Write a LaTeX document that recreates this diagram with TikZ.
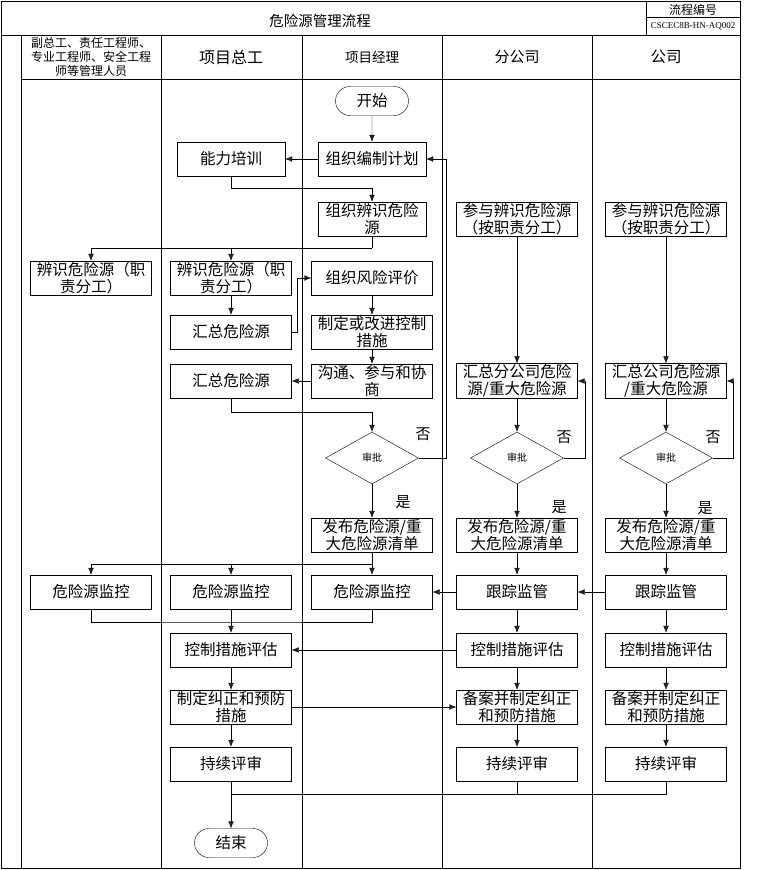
\documentclass[tikz,border=0pt]{standalone}
\usepackage{fontspec}
\setmainfont{Noto Sans CJK SC}
\newfontfamily\codefont{Liberation Serif}
\usepackage{tikz}
\usetikzlibrary{shapes.geometric,shapes.misc,arrows.meta}
\pgfdeclarelayer{nodelayer}
\pgfdeclarelayer{edgelayer}
\pgfsetlayers{nodelayer, edgelayer, main}

\begin{document}
\begin{tikzpicture}[x=1pt,y=-1pt,line width=0.8pt,draw=black!85,
    box/.style={draw,minimum width=121,minimum height=34,inner sep=1pt,align=center,font=\fontsize{15.5}{17}\selectfont},
    narrow/.style={box,minimum width=108},
    term/.style={draw,rounded rectangle,minimum width=75,minimum height=29,inner sep=1pt,font=\fontsize{15.5}{17}\selectfont},
    check/.style={draw,diamond,aspect=1.8,minimum width=93,minimum height=52,inner sep=0pt,font=\fontsize{10}{11}\selectfont},
    lbl/.style={font=\fontsize{15}{16}\selectfont},
    arr/.style={-{Latex[length=7pt,width=5.5pt]}}]
    \useasboundingbox (0,0) rectangle (760,870);
    \begin{pgfonlayer}{nodelayer}
        \node[term] (1) at (372,101) {开始};
        \node[narrow] (2) at (372,159) {组织编制计划};
        \node[narrow] (3) at (231,159) {能力培训};
        \node[narrow] (4) at (372,219) {组织辨识危险\\源};
        \node[box] (5) at (517,219) {参与辨识危险源\\（按职责分工）};
        \node[box] (6) at (666,219) {参与辨识危险源\\（按职责分工）};
        \node[box] (7) at (91,278) {辨识危险源（职\\责分工）};
        \node[box] (8) at (231,278) {辨识危险源（职\\责分工）};
        \node[box] (9) at (372,278) {组织风险评价};
        \node[box] (10) at (231,332) {汇总危险源};
        \node[box] (11) at (372,332) {制定或改进控制\\措施};
        \node[box] (12) at (372,381) {沟通、参与和协\\商};
        \node[box] (13) at (231,381) {汇总危险源};
        \node[box] (14) at (517,381) {汇总分公司危险\\源/重大危险源};
        \node[box] (15) at (666,381) {汇总公司危险源\\/重大危险源};
        \node[check] (16) at (372,458) {审批};
        \node[check] (17) at (517,458) {审批};
        \node[check] (18) at (666,458) {审批};
        \node[box] (19) at (372,535) {发布危险源/重\\大危险源清单};
        \node[box] (20) at (517,535) {发布危险源/重\\大危险源清单};
        \node[box] (21) at (666,535) {发布危险源/重\\大危险源清单};
        \node[box] (22) at (91,592) {危险源监控};
        \node[box] (23) at (231,592) {危险源监控};
        \node[box] (24) at (372,592) {危险源监控};
        \node[box] (25) at (517,592) {跟踪监管};
        \node[box] (26) at (666,592) {跟踪监管};
        \node[box] (27) at (231,650) {控制措施评估};
        \node[box] (28) at (517,650) {控制措施评估};
        \node[box] (29) at (666,650) {控制措施评估};
        \node[box] (30) at (231,707) {制定纠正和预防\\措施};
        \node[box] (31) at (517,707) {备案并制定纠正\\和预防措施};
        \node[box] (32) at (666,707) {备案并制定纠正\\和预防措施};
        \node[box] (33) at (231,764) {持续评审};
        \node[box] (34) at (517,764) {持续评审};
        \node[box] (35) at (666,764) {持续评审};
        \node[term] (36) at (231,843) {结束};
        \node[lbl] (n1) at (423,434) {否};
        \node[lbl] (n2) at (564,437) {否};
        \node[lbl] (n3) at (713,437) {否};
        \node[lbl] (y1) at (403,502) {是};
        \node[lbl] (y2) at (559,507) {是};
        \node[lbl] (y3) at (705,508) {是};
        \node[font=\fontsize{14.5}{16}\selectfont] (t) at (320,21) {危险源管理流程};
        \node[inner sep=0pt,font=\fontsize{12}{13}\selectfont] (t1) at (693,9.5) {流程编号};
        \node[inner sep=0pt,font=\fontsize{9}{10}\codefont] (t2) at (693,26) {CSCEC8B-HN-AQ002};
        \node[align=center,font=\fontsize{12}{14}\selectfont] (h1) at (91,57) {副总工、责任工程师、\\专业工程师、安全工程\\师等管理人员};
        \node[font=\fontsize{16}{17}\selectfont] (h2) at (231,57) {项目总工};
        \node[font=\fontsize{13.5}{15}\selectfont] (h3) at (372,57) {项目经理};
        \node[font=\fontsize{15}{16}\selectfont] (h4) at (517,57) {分公司};
        \node[font=\fontsize{15.5}{16}\selectfont] (h5) at (666,57) {公司};
    \end{pgfonlayer}
    \begin{pgfonlayer}{edgelayer}
        \draw (1,1) rectangle (740,868);
        \draw (1,35) -- (740,35);
        \draw (646,1) -- (646,35);
        \draw (646,17) -- (740,17);
        \draw (21,35) -- (21,868);
        \draw (21,79) -- (740,79);
        \foreach \x in {161,302,442,592}
            \draw (\x,35) -- (\x,868);
        \coordinate (a1) at (372,188);
        \coordinate (a2) at (372,248);
        \coordinate (a3) at (372,412);
        \coordinate (a4) at (446,159);
        \coordinate (a5) at (585,381);
        \coordinate (a6) at (733,381);
        \coordinate (a7) at (372,564);
        \coordinate (a8) at (231,622);
        \coordinate (a9) at (231,794);
        \draw[arr] (1) -- (2);
        \draw[arr] (2) -- (3);
        \draw[arr] (3) |- (a1) -- (4);
        \draw (4) -- (a2);
        \draw[arr] (a2) -| (7);
        \draw[arr] (a2) -| (8);
        \draw[arr] (8) -- (10);
        \draw[arr] (10.east) -- ++(5,0) |- (9);
        \draw[arr] (9) -- (11);
        \draw[arr] (11) -- (12);
        \draw[arr] (12) -- (13);
        \draw[arr] (13) |- (a3) -- (16);
        \draw[arr] (16.east) -| (a4) -- (2);
        \draw[arr] (16) -- (19);
        \draw[arr] (5) -- (14);
        \draw[arr] (6) -- (15);
        \draw[arr] (14) -- (17);
        \draw[arr] (15) -- (18);
        \draw[arr] (17.east) -| (a5) -- (14);
        \draw[arr] (18.east) -| (a6) -- (15);
        \draw[arr] (17) -- (20);
        \draw[arr] (18) -- (21);
        \draw (19) -- (a7);
        \draw[arr] (a7) -| (22);
        \draw[arr] (a7) -| (23);
        \draw[arr] (a7) -- (24);
        \draw[arr] (20) -- (25);
        \draw[arr] (21) -- (26);
        \draw[arr] (26) -- (25);
        \draw[arr] (25) -- (24);
        \draw (22) |- (a8) -| (24);
        \draw[arr] (23) -- (27);
        \draw[arr] (25) -- (28);
        \draw[arr] (26) -- (29);
        \draw[arr] (28) -- (27);
        \draw[arr] (27) -- (30);
        \draw[arr] (28) -- (31);
        \draw[arr] (29) -- (32);
        \draw[arr] (30) -- (31);
        \draw[arr] (30) -- (33);
        \draw[arr] (31) -- (34);
        \draw[arr] (32) -- (35);
        \draw[arr] (33) -- (36);
        \draw (34) |- (a9);
        \draw (35) |- (a9);
    \end{pgfonlayer}
\end{tikzpicture}
\end{document}
